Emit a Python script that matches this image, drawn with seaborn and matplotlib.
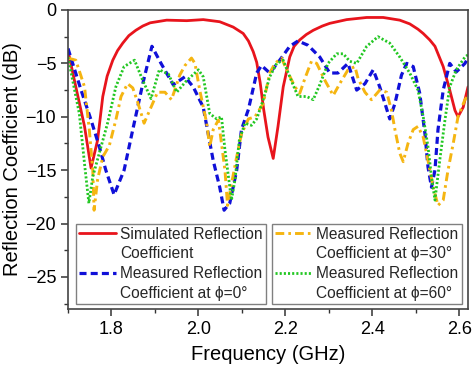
import matplotlib
matplotlib.use("Agg")
import matplotlib.pyplot as plt
import seaborn as sns
from matplotlib.lines import Line2D
from matplotlib.ticker import MultipleLocator

# data (GHz, dB)
red_f = [1.700, 1.718, 1.738, 1.753, 1.768, 1.780, 1.790, 1.803, 1.814, 1.826,
         1.840, 1.856, 1.872, 1.889, 1.927, 1.973, 2.011, 2.049, 2.080, 2.103,
         2.115, 2.126, 2.134, 2.142, 2.150, 2.160, 2.172, 2.183, 2.195, 2.210,
         2.220, 2.233, 2.248, 2.264, 2.285, 2.302, 2.341, 2.387, 2.425, 2.463,
         2.486, 2.505, 2.517, 2.532, 2.544, 2.563, 2.578, 2.590, 2.597, 2.609,
         2.620]
red_db = [-3.8, -7.2, -10.9, -14.8, -12.2, -8.1, -6.2, -4.7, -3.8, -3.1,
          -2.4, -1.9, -1.5, -1.2, -0.95, -1.0, -0.9, -1.1, -1.6, -2.2,
          -2.9, -3.9, -4.9, -6.8, -9.3, -11.9, -13.9, -10.9, -7.2, -4.4,
          -3.4, -2.8, -2.3, -1.9, -1.5, -1.25, -0.9, -0.7, -0.7, -0.95,
          -1.3, -1.8, -2.2, -2.8, -3.4, -5.3, -7.5, -9.4, -10.0, -9.1,
          -7.2]

blue_f = [1.700, 1.730, 1.753, 1.772, 1.787, 1.806, 1.829, 1.849, 1.872, 1.893,
          1.914, 1.942, 1.969, 1.988, 2.011, 2.034, 2.049, 2.059, 2.072, 2.088,
          2.099, 2.115, 2.134, 2.145, 2.164, 2.187, 2.210, 2.229, 2.252, 2.279,
          2.302, 2.321, 2.344, 2.364, 2.383, 2.402, 2.417, 2.429, 2.440, 2.452,
          2.467, 2.479, 2.494, 2.509, 2.521, 2.528, 2.536, 2.544, 2.551, 2.563,
          2.578, 2.593, 2.613, 2.620]
blue_db = [-3.6, -7.5, -10.3, -12.8, -15.0, -17.3, -15.0, -11.2, -6.9, -3.4,
           -5.0, -7.0, -6.25, -7.2, -9.1, -14.1, -16.6, -18.75, -18.1, -15.0,
           -11.2, -9.3, -5.9, -5.2, -5.9, -4.7, -3.4, -2.9, -3.3, -4.4,
           -5.9, -5.9, -5.0, -7.5, -6.9, -5.6, -7.2, -8.75, -10.2, -8.75,
           -6.1, -5.0, -5.3, -7.8, -11.6, -14.7, -16.6, -15.0, -11.2, -7.5,
           -5.0, -5.8, -5.0, -4.5]

orange_f = [1.700, 1.718, 1.738, 1.749, 1.757, 1.760, 1.768, 1.780, 1.795, 1.810,
            1.822, 1.837, 1.849, 1.860, 1.875, 1.891, 1.906, 1.923, 1.938, 1.957,
            1.969, 1.984, 1.992, 2.003, 2.019, 2.026, 2.034, 2.046, 2.061, 2.067,
            2.075, 2.088, 2.099, 2.115, 2.130, 2.149, 2.164, 2.176, 2.191, 2.203,
            2.222, 2.233, 2.245, 2.260, 2.272, 2.291, 2.310, 2.325, 2.344, 2.360,
            2.367, 2.383, 2.398, 2.417, 2.433, 2.444, 2.452, 2.463, 2.471, 2.482,
            2.494, 2.505, 2.517, 2.528, 2.540, 2.551, 2.563, 2.574, 2.586, 2.597,
            2.613, 2.620]
orange_db = [-4.5, -4.7, -7.2, -11.2, -15.0, -18.75, -15.9, -13.75, -12.7, -10.3,
             -8.1, -6.9, -7.3, -8.6, -10.6, -9.1, -7.7, -7.7, -8.4, -6.1,
             -5.2, -4.5, -5.0, -7.5, -10.6, -12.8, -11.2, -10.3, -15.0, -18.3,
             -16.5, -13.75, -11.6, -10.2, -10.0, -8.75, -5.9, -5.0, -4.5, -5.6,
             -7.2, -7.8, -6.4, -4.8, -5.0, -6.6, -8.0, -6.9, -5.6, -5.3,
             -6.4, -7.7, -8.4, -7.5, -7.7, -9.4, -11.2, -13.4, -14.2, -12.5,
             -11.2, -10.9, -11.9, -14.1, -16.6, -18.3, -17.8, -15.0, -12.5, -10.0,
             -8.4, -8.0]

green_f = [1.700, 1.726, 1.738, 1.748, 1.757, 1.772, 1.791, 1.810, 1.829, 1.853,
           1.872, 1.891, 1.910, 1.931, 1.950, 1.973, 2.000, 2.011, 2.026, 2.042,
           2.053, 2.061, 2.069, 2.076, 2.084, 2.094, 2.107, 2.122, 2.134, 2.149,
           2.164, 2.180, 2.195, 2.210, 2.229, 2.249, 2.264, 2.279, 2.298, 2.318,
           2.333, 2.348, 2.364, 2.387, 2.413, 2.440, 2.463, 2.486, 2.505, 2.517,
           2.528, 2.536, 2.544, 2.555, 2.567, 2.578, 2.593, 2.613, 2.620]
green_db = [-4.4, -9.7, -14.4, -18.1, -15.6, -13.4, -10.6, -7.2, -5.3, -4.7,
            -6.6, -8.3, -5.6, -6.0, -7.7, -6.6, -5.6, -6.25, -9.7, -10.2,
            -10.0, -13.1, -15.6, -17.8, -15.9, -12.2, -10.6, -10.8, -10.2, -8.4,
            -6.25, -5.0, -4.7, -6.25, -8.1, -8.1, -8.4, -7.0, -5.0, -4.1,
            -4.1, -4.8, -5.0, -3.4, -2.5, -3.1, -4.4, -5.9, -7.5, -10.0,
            -12.8, -15.6, -17.8, -14.1, -10.3, -7.2, -5.6, -4.4, -4.2]

labels_left = ["Simulated Reflection", "Coefficient",
               "Measured Reflection", "Coefficient at \u03d5=0\u00b0"]
labels_right = ["Measured Reflection", "Coefficient at \u03d5=30\u00b0",
                "Measured Reflection", "Coefficient at \u03d5=60\u00b0"]

sns.set_theme(style="ticks")
plt.rcParams['font.family'] = ['Liberation Sans', 'DejaVu Sans']

fig = plt.figure(figsize=(4.74, 3.66), dpi=100)
ax = fig.add_axes([68 / 474, 1 - 309 / 366, 400 / 474, 299 / 366])

sns.lineplot(x=red_f, y=red_db, ax=ax, color='#e8141c', linewidth=2.0, legend=False)
sns.lineplot(x=blue_f, y=blue_db, ax=ax, color='#1010d8', linewidth=2.3,
             linestyle=(0, (2.2, 1.3)), legend=False)
sns.lineplot(x=orange_f, y=orange_db, ax=ax, color='#f5b511', linewidth=2.1,
             linestyle=(0, (3.0, 1.4, 0.9, 1.4)), legend=False)
sns.lineplot(x=green_f, y=green_db, ax=ax, color='#22c722', linewidth=2.0,
             linestyle=(0, (0.75, 0.75)), legend=False)

ax.set_xlim(1.7, 2.62)
ax.set_ylim(-28, 0)
ax.xaxis.set_major_locator(MultipleLocator(0.2))
ax.xaxis.set_minor_locator(MultipleLocator(0.1))
ax.yaxis.set_major_locator(MultipleLocator(5))
ax.yaxis.set_minor_locator(MultipleLocator(2.5))
ax.tick_params(which='major', direction='out', length=5, width=1.1,
               color='#333333', labelcolor='black', labelsize=13)
ax.tick_params(which='minor', direction='out', length=3, width=1.0, color='#333333')
for s in ax.spines.values():
    s.set_color('#444444')
    s.set_linewidth(1.2)

ax.set_xlabel('Frequency (GHz)', fontsize=14.5, color='black')
ax.set_ylabel('Reflection Coefficient (dB)', fontsize=14.5, color='black')
ax.xaxis.set_label_coords(0.5, -0.122)
ax.yaxis.set_label_coords(-0.115, 0.5)

lines = ax.get_lines()
blank = Line2D([], [], color='none')
leg_kw = dict(loc='lower left', borderaxespad=0, fontsize=11.2, frameon=True,
              fancybox=False, edgecolor='#808080', framealpha=1,
              handlelength=2.4, handletextpad=0.25, labelspacing=0.3,
              borderpad=0.2)
leg1 = ax.legend([lines[0], blank, lines[1], blank], labels_left,
                 bbox_to_anchor=(0.02, 0.017), **leg_kw)
leg1.get_frame().set_linewidth(1.0)
ax.add_artist(leg1)
leg2 = ax.legend([lines[2], blank, lines[3], blank], labels_right,
                 bbox_to_anchor=(0.51, 0.017), **leg_kw)
leg2.get_frame().set_linewidth(1.0)

fig.savefig('out.png', dpi=100)
